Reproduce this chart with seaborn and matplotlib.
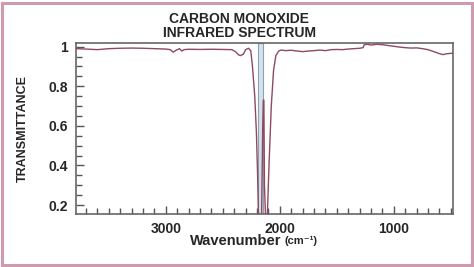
import matplotlib
matplotlib.use("Agg")
import matplotlib.pyplot as plt
import matplotlib.patches as patches
from matplotlib.ticker import MultipleLocator
import seaborn as sns
import pandas as pd

# spectrum
wavenumber = [3785, 3700, 3600, 3500, 3400, 3300, 3200, 3100, 3000, 2960, 2935, 2910,
              2880, 2860, 2840, 2800, 2700, 2600, 2500, 2420, 2390, 2360, 2345, 2320,
              2300, 2275, 2255, 2240, 2220, 2205, 2195, 2188, 2175, 2160, 2150, 2145,
              2140, 2135, 2125, 2110, 2095, 2075, 2055, 2035, 2010, 1990, 1950, 1900,
              1850, 1800, 1750, 1700, 1650, 1600, 1550, 1500, 1450, 1400, 1350, 1300,
              1270, 1260, 1230, 1200, 1150, 1100, 1050, 1000, 950, 900, 850, 800,
              750, 700, 650, 600, 570, 530, 480]
transmittance = [0.990, 0.988, 0.985, 0.990, 0.992, 0.993, 0.992, 0.990, 0.988, 0.985, 0.972, 0.982,
                 0.990, 0.978, 0.985, 0.987, 0.986, 0.987, 0.986, 0.985, 0.975, 0.958, 0.955, 0.962,
                 0.985, 0.992, 0.980, 0.900, 0.750, 0.560, 0.350, 0.160, 0.140, 0.140, 0.600, 0.730,
                 0.730, 0.300, 0.140, 0.140, 0.400, 0.700, 0.880, 0.955, 0.978, 0.983, 0.980, 0.982,
                 0.978, 0.975, 0.978, 0.980, 0.983, 0.980, 0.985, 0.986, 0.985, 0.988, 0.990, 0.992,
                 0.995, 1.010, 1.012, 1.008, 1.012, 1.010, 1.006, 1.002, 0.998, 0.995, 0.993, 0.994,
                 0.990, 0.985, 0.975, 0.965, 0.960, 0.965, 0.967]

band_lo, band_hi = 2150, 2195
x_ticks = [3000, 2000, 1000]
y_ticks = [0.2, 0.4, 0.6, 0.8, 1.0]
y_labels = ["0.2", "0.4", "0.6", "0.8", "1"]

df = pd.DataFrame({"wavenumber": wavenumber, "transmittance": transmittance})

sns.set_style("ticks")
plt.rcParams['font.family'] = ['Liberation Sans', 'DejaVu Sans']

fig = plt.figure(figsize=(4.74, 2.67), dpi=100)
ax = fig.add_axes([0.161, 0.1985, 0.795, 0.6415])

ax.axvspan(band_hi, band_lo, facecolor="#d3e3ee", edgecolor="#8f9fb0", linewidth=0.8, zorder=1)
sns.lineplot(data=df, x="wavenumber", y="transmittance", sort=False, estimator=None,
             color="#8e4a5e", linewidth=1.0, ax=ax, zorder=3)

ax.set_xlim(3785, 480)
ax.set_ylim(0.155, 1.02)
ax.set_xticks(x_ticks)
ax.set_xticklabels([str(t) for t in x_ticks])
ax.set_yticks(y_ticks)
ax.set_yticklabels(y_labels)
ax.xaxis.set_minor_locator(MultipleLocator(100))
ax.yaxis.set_minor_locator(MultipleLocator(0.05))
ax.yaxis.set_ticks_position("left")
ax.xaxis.set_ticks_position("bottom")
ax.tick_params(which="both", direction="in", color="#555555", width=1.0, pad=6)
ax.tick_params(which="major", length=6)
ax.tick_params(which="minor", length=4)
for lab in ax.get_xticklabels() + ax.get_yticklabels():
    lab.set_fontweight("bold")
    lab.set_fontsize(10)
for sp in ax.spines.values():
    sp.set_visible(True)
    sp.set_color("#666666")
    sp.set_linewidth(1.2)

ax.set_xlabel("")
ax.set_ylabel("TRANSMITTANCE", fontsize=9, fontweight="bold", labelpad=14)
fig.text(0.505, 0.903, "CARBON MONOXIDE\nINFRARED SPECTRUM", ha="center", va="center",
         fontsize=10, fontweight="bold", linespacing=1.0)
fig.text(0.593, 0.098, "Wavenumber", ha="right", va="center", fontsize=10.5, fontweight="bold")
fig.text(0.600, 0.098, "(cm\u207b\u00b9)", ha="left", va="center", fontsize=8, fontweight="bold")

fig.patches.append(patches.Rectangle((0.004, 0.008), 0.991, 0.981, transform=fig.transFigure,
                                     fill=False, edgecolor="#cf9aad", linewidth=2.2))

fig.savefig("out.png", dpi=100)
